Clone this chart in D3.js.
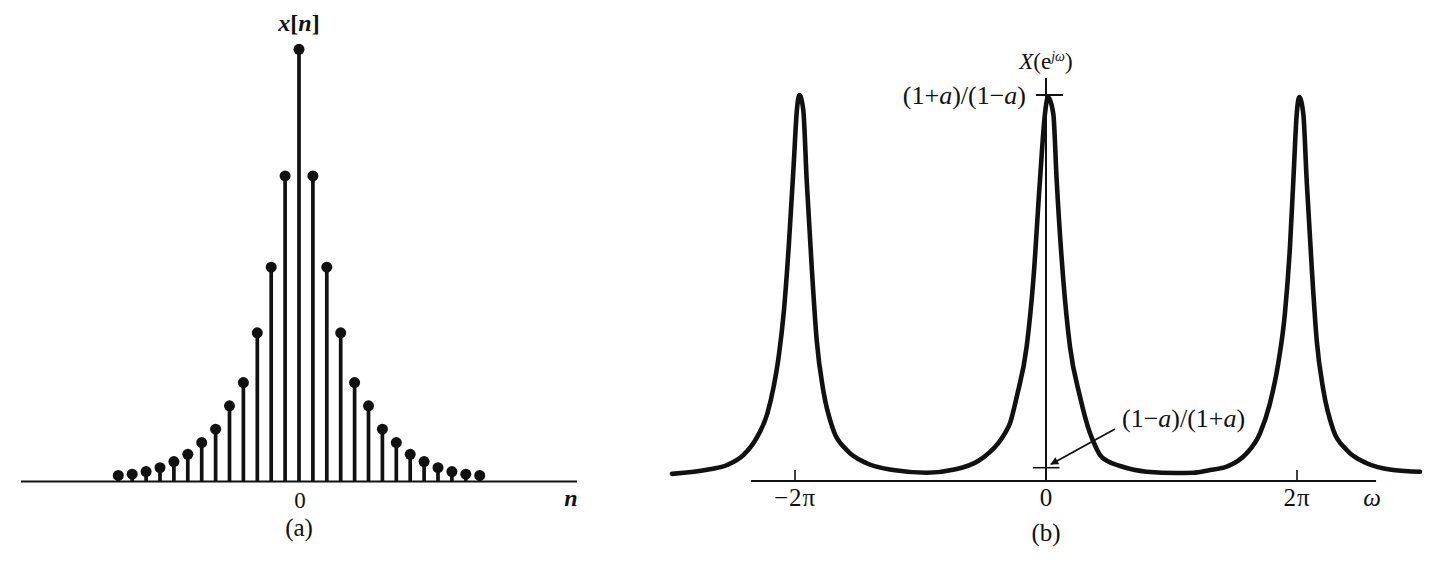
<!DOCTYPE html>
<html>
<head>
<meta charset="utf-8">
<script src="https://cdn.jsdelivr.net/npm/d3@7/dist/d3.min.js"></script>
<style>
  html, body { margin: 0; padding: 0; background: #fff; }
  svg { display: block; }
  text { font-family: "Liberation Serif", "DejaVu Serif", serif; fill: #111; }
</style>
</head>
<body>
<svg id="chart" width="1447" height="567"></svg>
<script>
// ---------- Data: panel (a) ----------
const nValues = [-13,-12,-11,-10,-9,-8,-7,-6,-5,-4,-3,-2,-1,0,1,2,3,4,5,6,7,8,9,10,11,12,13];
const xnValues = [0.014,0.017,0.023,0.032,0.046,0.063,0.090,0.121,0.175,0.229,0.344,0.496,0.707,
                  1.000,
                  0.707,0.496,0.344,0.229,0.175,0.121,0.090,0.063,0.046,0.032,0.023,0.017,0.014];
const nAxisTickValues = [0];
const nAxisTickLabels = ["0"];

// ---------- Data: panel (b) ----------
// omega in units of pi, magnitude in arbitrary units (peak = (1+a)/(1-a))
const omegaPts = [-2.98,-2.68,-2.54,-2.41,-2.30,-2.22,-2.17,-2.13,-2.09,-2.05,-2.01,-1.985,-1.965,
  -1.934,-1.907,-1.867,-1.827,-1.775,-1.695,-1.588,-1.429,-1.217,-0.951,-0.72,-0.54,-0.45,-0.38,-0.33,-0.287,
  -0.233,-0.154,-0.101,-0.048,-0.008,0.016,0.058,0.085,0.138,0.191,0.271,0.351,0.39,0.430,0.50,0.590,0.802,
  1.041,1.174,1.307,1.440,1.599,1.705,1.785,1.851,1.904,1.944,1.971,1.998,2.018,2.050,2.077,2.117,
  2.157,2.210,2.289,2.396,2.555,2.767,2.980];
const magPts = [0.10,0.164,0.224,0.364,0.62,0.947,1.32,1.74,2.35,3.28,4.44,5.19,5.40,
  5.19,4.21,3.00,1.97,1.27,0.713,0.434,0.248,0.154,0.116,0.164,0.28,0.40,0.53,0.66,0.807,
  1.18,1.88,2.81,4.21,5.14,5.37,5.14,4.21,2.81,1.88,1.18,0.667,0.50,0.364,0.27,0.21,0.13,
  0.112,0.115,0.154,0.20,0.387,0.667,1.09,1.65,2.35,3.28,4.21,5.14,5.37,5.14,4.21,3.00,
  1.97,1.27,0.713,0.434,0.248,0.154,0.13];
const omegaTickValues = [-2, 0, 2];
const omegaTickLabels = ["\u22122\u03c0", "0", "2\u03c0"];
const magPeak = 5.40;      // (1+a)/(1-a)
const magMin = 0.186;      // (1-a)/(1+a)

const svg = d3.select("#chart");

// ================= Panel (a) =================
const xA = d3.scaleLinear().domain([-20, 20]).range([21, 577]);
const yA = d3.scaleLinear().domain([0, 1]).range([481.5, 49.3]);
const gA = svg.append("g");

gA.append("line")
  .attr("x1", xA(-20)).attr("x2", xA(20))
  .attr("y1", yA(0)).attr("y2", yA(0))
  .attr("stroke", "#111").attr("stroke-width", 2);

const stems = nValues.map((n, i) => ({ n, v: xnValues[i] }));
gA.selectAll("line.stem").data(stems).join("line")
  .attr("class", "stem")
  .attr("x1", d => xA(d.n)).attr("x2", d => xA(d.n))
  .attr("y1", yA(0)).attr("y2", d => yA(d.v))
  .attr("stroke", "#111").attr("stroke-width", 3.7);
gA.selectAll("circle.dot").data(stems).join("circle")
  .attr("class", "dot")
  .attr("cx", d => xA(d.n)).attr("cy", d => yA(d.v))
  .attr("r", 5.5).attr("fill", "#111");

gA.selectAll("text.tick").data(nAxisTickValues).join("text")
  .attr("class", "tick")
  .attr("x", d => xA(d) + 1).attr("y", 508)
  .attr("text-anchor", "middle").attr("font-size", 23)
  .text((d, i) => nAxisTickLabels[i]);

gA.append("text").attr("x", 571).attr("y", 506)
  .attr("text-anchor", "middle").attr("font-size", 24)
  .attr("font-weight", "bold").attr("font-style", "italic").text("n");

const tA = gA.append("text").attr("x", xA(0)).attr("y", 31)
  .attr("text-anchor", "middle").attr("font-size", 24).attr("font-weight", "bold");
tA.append("tspan").attr("font-style", "italic").text("x");
tA.append("tspan").text("[");
tA.append("tspan").attr("font-style", "italic").text("n");
tA.append("tspan").text("]");

gA.append("text").attr("x", xA(0)).attr("y", 536)
  .attr("text-anchor", "middle").attr("font-size", 25).text("(a)");

// ================= Panel (b) =================
const xB = d3.scaleLinear().domain([-2, 2]).range([795, 1297]);
const yB = d3.scaleLinear().domain([0, magPeak]).range([481, 95]);
const gB = svg.append("g");

gB.append("line")
  .attr("x1", xB(-2.35)).attr("x2", xB(2.63))
  .attr("y1", yB(0)).attr("y2", yB(0))
  .attr("stroke", "#111").attr("stroke-width", 2);

gB.append("line")
  .attr("x1", xB(0)).attr("x2", xB(0))
  .attr("y1", yB(0)).attr("y2", 78)
  .attr("stroke", "#111").attr("stroke-width", 2);

gB.selectAll("line.tk").data(omegaTickValues.filter(v => v !== 0)).join("line")
  .attr("class", "tk")
  .attr("x1", d => xB(d)).attr("x2", d => xB(d))
  .attr("y1", yB(0)).attr("y2", yB(0) - 11)
  .attr("stroke", "#111").attr("stroke-width", 1.6);

gB.selectAll("text.tl").data(omegaTickValues).join("text")
  .attr("class", "tl")
  .attr("x", d => xB(d)).attr("y", 506)
  .attr("text-anchor", "middle").attr("font-size", 25)
  .attr("letter-spacing", d => d === 0 ? 0 : 1)
  .text((d, i) => omegaTickLabels[i]);

gB.append("text").attr("x", 1372).attr("y", 506)
  .attr("text-anchor", "middle").attr("font-size", 25)
  .attr("font-style", "italic").text("\u03c9");

const curvePts = omegaPts.map((w, i) => [w, magPts[i]]);
const line = d3.line().x(d => xB(d[0])).y(d => yB(d[1])).curve(d3.curveMonotoneX);
gB.append("path").attr("d", line(curvePts))
  .attr("fill", "none").attr("stroke", "#111")
  .attr("stroke-width", 4.6).attr("stroke-linejoin", "round").attr("stroke-linecap", "round");

gB.append("line")
  .attr("x1", xB(0) - 10).attr("x2", xB(0) + 17)
  .attr("y1", yB(magPeak)).attr("y2", yB(magPeak))
  .attr("stroke", "#111").attr("stroke-width", 2);
gB.append("line")
  .attr("x1", xB(0) - 13).attr("x2", xB(0) + 13.5)
  .attr("y1", yB(magMin)).attr("y2", yB(magMin))
  .attr("stroke", "#111").attr("stroke-width", 1.6);

const tPk = gB.append("text").attr("x", xB(0) - 20).attr("y", 104)
  .attr("text-anchor", "end").attr("font-size", 26);
tPk.append("tspan").text("(1+");
tPk.append("tspan").attr("font-style", "italic").text("a");
tPk.append("tspan").text(")/(1\u2212");
tPk.append("tspan").attr("font-style", "italic").text("a");
tPk.append("tspan").text(")");

const tMn = gB.append("text").attr("x", 1122).attr("y", 427)
  .attr("text-anchor", "start").attr("font-size", 26);
tMn.append("tspan").text("(1\u2212");
tMn.append("tspan").attr("font-style", "italic").text("a");
tMn.append("tspan").text(")/(1+");
tMn.append("tspan").attr("font-style", "italic").text("a");
tMn.append("tspan").text(")");

const tY = gB.append("text").attr("x", xB(0)).attr("y", 69)
  .attr("text-anchor", "middle").attr("font-size", 23);
tY.append("tspan").attr("font-style", "italic").text("X");
tY.append("tspan").text("(e");
tY.append("tspan").attr("font-style", "italic").attr("font-size", 14).attr("dy", -8).text("j\u03c9");
tY.append("tspan").attr("dy", 8).text(")");

const defs = svg.append("defs");
defs.append("marker").attr("id", "ah")
  .attr("viewBox", "0 0 10 10").attr("refX", 9).attr("refY", 5)
  .attr("markerWidth", 13).attr("markerHeight", 8).attr("markerUnits", "userSpaceOnUse")
  .attr("orient", "auto")
  .append("path").attr("d", "M0,0 L10,5 L0,10 Z").attr("fill", "#111");
gB.append("line")
  .attr("x1", 1115).attr("y1", 429)
  .attr("x2", xB(0) + 5).attr("y2", yB(magMin) - 3.5)
  .attr("stroke", "#111").attr("stroke-width", 1.8)
  .attr("marker-end", "url(#ah)");

gB.append("text").attr("x", xB(0)).attr("y", 541)
  .attr("text-anchor", "middle").attr("font-size", 25).text("(b)");
</script>
</body>
</html>
